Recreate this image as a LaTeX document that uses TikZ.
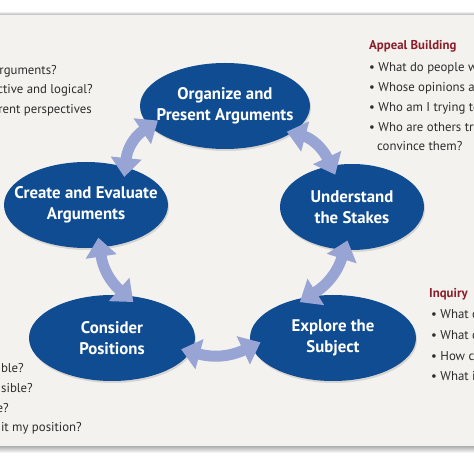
\documentclass[tikz,border=0pt]{standalone}
\usepackage{fontspec}
\setmainfont{PT Sans}
\usetikzlibrary{shapes.geometric,arrows.meta,shadows}
\definecolor{ovalblue}{RGB}{16,76,146}
\definecolor{arrowblue}{RGB}{152,165,212}
\definecolor{panelgray}{RGB}{243,242,238}
\definecolor{titlered}{RGB}{138,30,42}
\definecolor{textgray}{RGB}{45,45,45}

\begin{document}
\begin{tikzpicture}[x=1pt,y=1pt,
    stage/.style={ellipse, fill=ovalblue, text=white, align=center,
      inner xsep=-25pt, inner ysep=-8pt,
      minimum height=86pt, font=\fontsize{16.8}{21}\selectfont\bfseries,
      drop shadow={opacity=0.25, shadow xshift=1pt, shadow yshift=-2pt}},
    link/.style={line width=11pt, draw=arrowblue,
      {Triangle[width=30pt,length=19pt]}-{Triangle[width=30pt,length=19pt]},
      shorten <=-10pt, shorten >=-10pt},
    note/.style={font=\fontsize{12.8}{15}\selectfont, text=textgray, inner sep=0pt},
    heading/.style={font=\fontsize{12.8}{15}\selectfont\bfseries, text=titlered, inner sep=0pt, anchor=west}]
  \useasboundingbox (0,0) rectangle (474,474);
  % panel
  \shade[top color=white, bottom color=black!30] (0,459) rectangle (474,463);
  \fill[panelgray] (0,27) rectangle (474,459);
  \shade[top color=black!28, bottom color=white] (0,21) rectangle (474,27);

  % the five stages
  \node[stage, minimum width=170pt] (organize) at (225,368) {Organize and\\Present Arguments};
  \node[stage, minimum width=144pt] (stakes) at (352,267) {Understand\\the Stakes};
  \node[stage, minimum width=166pt] (explore) at (333,136) {Explore the\\Subject};
  \node[stage, minimum width=166pt] (consider) at (112,136) {Consider\\Positions};
  \node[stage, minimum width=164pt] (create) at (86,269) {Create and Evaluate\\Arguments};

  \draw[link] (create.44) to[bend left=25] (organize.195);
  \draw[link, shorten <=-5pt] (organize.338) to[bend left=25] (stakes.117);
  \draw[link] (stakes.260) to[bend left=20] (explore.121);
  \draw[link] (explore.186) to[bend left=20] (consider.350);
  \draw[link] (consider.72) to[bend left=20] (create.288);

  % side notes
  \node[note, anchor=east] (l1) at (57,403) {rguments?};
  \node[note, anchor=east] (l2) at (93,384) {ctive and logical?};
  \node[note, anchor=east] (l3) at (92,364) {rent perspectives};

  \node[note, anchor=east] (b1) at (24,106) {ble?};
  \node[note, anchor=east] (b2) at (33,86) {sible?};
  \node[note, anchor=east] (b3) at (9,66) {e?};
  \node[note, anchor=east] (b4) at (82,46) {it my position?};

  \node[heading] (appeal) at (369,428) {Appeal Building};
  \node[note, anchor=west] (a1) at (369,406) {• What do people w};
  \node[note, anchor=west] (a2) at (369,386) {• Whose opinions a};
  \node[note, anchor=west] (a3) at (369,366) {• Who am I trying to};
  \node[note, anchor=west] (a4) at (369,346) {• Who are others try};
  \node[note, anchor=west] (a5) at (377,328) {convince them?};

  \node[heading] (inquiry) at (429,180) {Inquiry};
  \node[note, anchor=west] (i1) at (431,160) {• What c};
  \node[note, anchor=west] (i2) at (431,139) {• What c};
  \node[note, anchor=west] (i3) at (431,118) {• How ca};
  \node[note, anchor=west] (i4) at (431,98) {• What i};
\end{tikzpicture}
\end{document}
